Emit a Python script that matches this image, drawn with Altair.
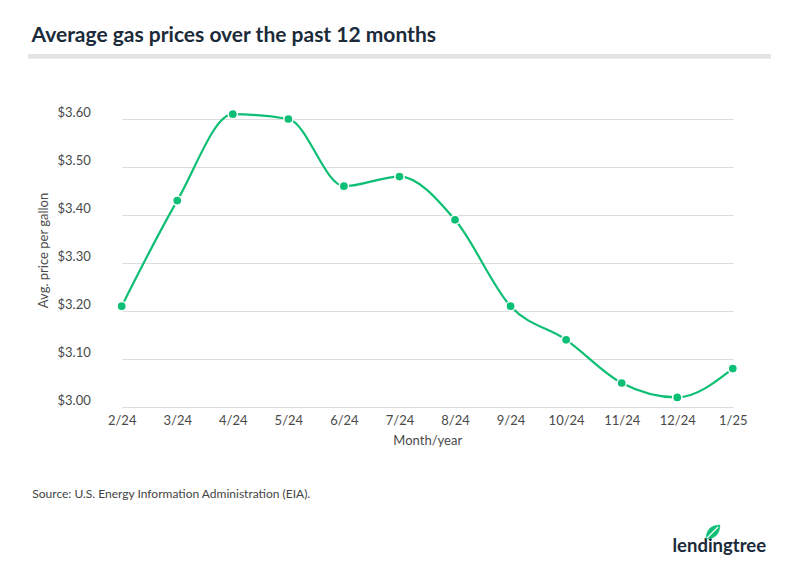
import altair as alt
import pandas as pd

months = ["2/24", "3/24", "4/24", "5/24", "6/24", "7/24", "8/24", "9/24",
          "10/24", "11/24", "12/24", "1/25"]
prices = [3.21, 3.43, 3.61, 3.60, 3.46, 3.48, 3.39, 3.21, 3.14, 3.05, 3.02, 3.08]
y_ticks = [3.0, 3.1, 3.2, 3.3, 3.4, 3.5, 3.6]

title_text = "Average gas prices over the past 12 months"
source_text = "Source: U.S. Energy Information Administration (EIA)."
logo_text = "lendingtree"

GREEN = "#0dbf74"
FONT = "Lato"

df = pd.DataFrame({"month": months, "price": prices})
one = pd.DataFrame({"k": [0]})

W, H = 704, 324

x_enc = alt.X("month:N", sort=months,
              scale=alt.Scale(type="point", range=[65.7, 676.8], padding=0),
              axis=alt.Axis(title="Month/year", labelAngle=0, domain=False, ticks=False,
                            labelPadding=7, labelFontSize=13, labelColor="#4a4a4a",
                            labelFont=FONT, titleFont=FONT, titleFontSize=13,
                            titleFontWeight="normal", titleColor="#4a4a4a", titlePadding=7))
y_enc = alt.Y("price:Q",
              scale=alt.Scale(domain=[3.0, 3.675], nice=False, zero=False),
              axis=alt.Axis(title="Avg. price per gallon", values=y_ticks, format="$.2f",
                            domain=False, ticks=False, tickSize=0, labelAlign="left",
                            labelBaseline="alphabetic", labelOffset=-3, labelPadding=-1,
                            labelFlush=False, labelFontSize=13, labelColor="#4a4a4a",
                            labelFont=FONT, grid=True, gridColor="#dcdcdc", gridWidth=1,
                            titleFont=FONT, titleFontSize=13, titleFontWeight="normal",
                            titleColor="#4a4a4a", titleX=-13, titleY=167, titleAngle=-90,
                            titleBaseline="middle", titleAlign="center"))

line = alt.Chart(df).mark_line(color=GREEN, strokeWidth=2.2, interpolate="monotone").encode(
    x=x_enc, y=y_enc)
points = alt.Chart(df).mark_point(filled=True, fill=GREEN, size=85, stroke="white",
                                  strokeWidth=1.5, opacity=1).encode(
    x=alt.X("month:N", sort=months), y="price:Q")

title = alt.Chart(one).mark_text(text=title_text, align="left", baseline="alphabetic",
                                 font=FONT, fontSize=21, fontWeight="bold",
                                 color="#1c2b3a").encode(
    x=alt.value(-24.5), y=alt.value(-41.3))
bar = alt.Chart(one).mark_rule(color="#e4e4e4", strokeWidth=4.7).encode(
    x=alt.value(-28), x2=alt.value(715), y=alt.value(-26.7))
source = alt.Chart(one).mark_text(text=source_text, align="left", baseline="alphabetic",
                                  font=FONT, fontSize=12, color="#444444").encode(
    x=alt.value(-23.7), y=alt.value(415))
logo = alt.Chart(one).mark_text(text=logo_text, align="left", baseline="alphabetic",
                                font=FONT, fontSize=18.5, fontWeight="bold",
                                color="#1b2a3a").encode(
    x=alt.value(616.5), y=alt.value(469))
leaf_path = "M -1 1 C -1 -0.3 -0.3 -1 1 -1 C 1 0.3 0.3 1 -1 1 Z"
leaf = alt.Chart(one).mark_point(shape=leaf_path, filled=True, fill=GREEN, stroke=GREEN,
                                 strokeWidth=0.5, size=190, opacity=1).encode(
    x=alt.value(657), y=alt.value(449))
vein = alt.Chart(one).mark_rule(color="white", strokeWidth=1.3).encode(
    x=alt.value(651), x2=alt.value(662), y=alt.value(455), y2=alt.value(444))

chart = alt.layer(line, points, title, bar, source, logo, leaf, vein).properties(
    width=W, height=H,
    background="white",
    autosize=alt.AutoSizeParams(type="none"),
    padding={"left": 48, "top": 75, "right": 32, "bottom": 155},
).configure_view(stroke="transparent", strokeWidth=0)

chart.save("out.html", embed_options={"renderer": "svg", "actions": False})
